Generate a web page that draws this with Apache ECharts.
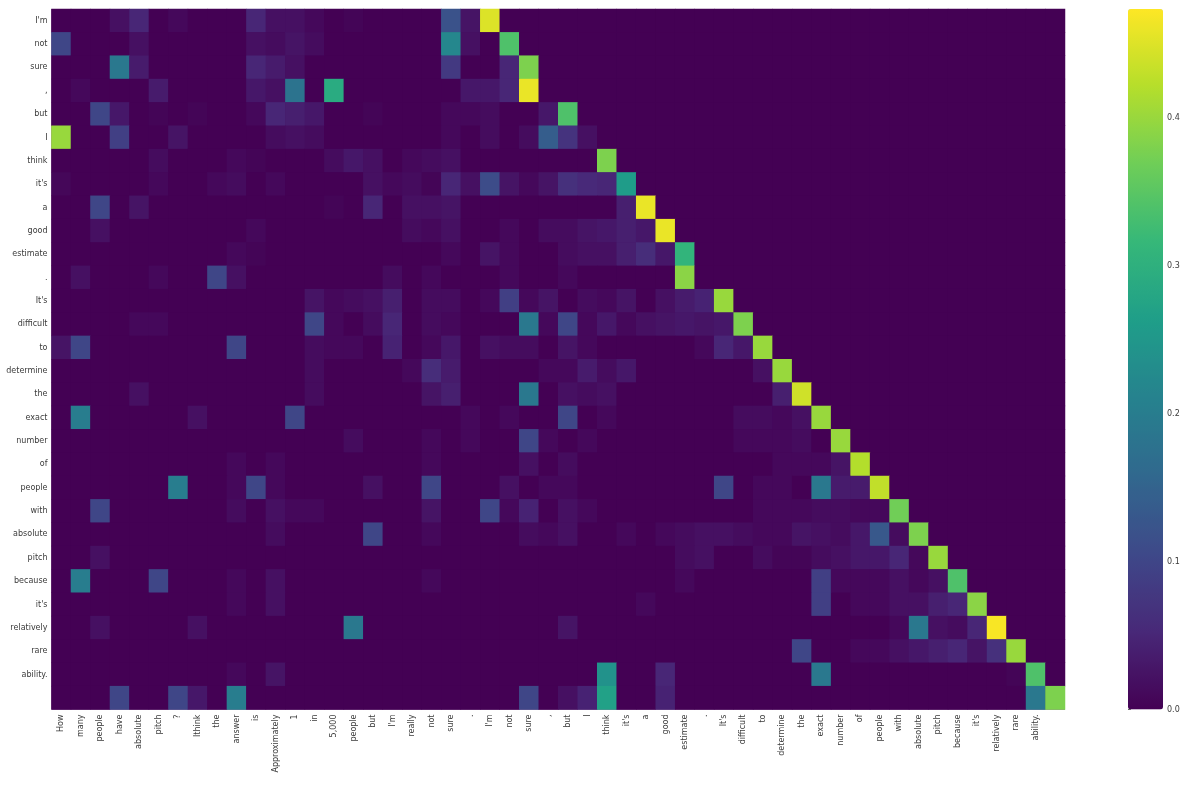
<!DOCTYPE html>
<html>
<head>
<meta charset="utf-8">
<script src="https://cdn.jsdelivr.net/npm/echarts@6/dist/echarts.min.js"></script>
<style>
html,body{margin:0;padding:0;background:#fff;}
#chart{width:1189px;height:808px;}
</style>
</head>
<body>
<div id="chart"></div>
<script>
// Column tokens (last column unlabeled)
const xLabels = ["How","many","people","have","absolute","pitch","?","Ithink","the","answer","is","Approximately","1","in","5,000","people","but","I'm","really","not","sure",".","I'm","not","sure",",","but","I","think","it's","a","good","estimate",".","It's","difficult","to","determine","the","exact","number","of","people","with","absolute","pitch","because","it's","relatively","rare","ability.",""];
// Row tokens (last row unlabeled)
const yLabels = ["I'm","not","sure",",","but","I","think","it's","a","good","estimate",".","It's","difficult","to","determine","the","exact","number","of","people","with","absolute","pitch","because","it's","relatively","rare","ability.",""];
// Colorbar ticks
const colorbarTicks = [0.0, 0.1, 0.2, 0.3, 0.4];
const colorMax = 0.474;
// Nonzero attention weights: [row, col, value]; all other cells are 0
const weights = [
// row 0 I'm
[0,3,0.02],[0,4,0.05],[0,6,0.01],[0,10,0.05],[0,11,0.02],[0,12,0.02],[0,13,0.01],[0,15,0.005],[0,20,0.12],[0,21,0.025],[0,22,0.45],
// row 1 not
[1,0,0.1],[1,4,0.02],[1,10,0.02],[1,11,0.015],[1,12,0.025],[1,13,0.015],[1,20,0.22],[1,21,0.02],[1,23,0.34],
// row 2 sure
[2,3,0.19],[2,4,0.035],[2,10,0.05],[2,11,0.035],[2,12,0.02],[2,20,0.08],[2,23,0.05],[2,24,0.38],
// row 3 ,
[3,1,0.01],[3,5,0.035],[3,10,0.03],[3,11,0.02],[3,12,0.18],[3,14,0.29],[3,21,0.03],[3,22,0.03],[3,23,0.05],[3,24,0.46],
// row 4 but
[4,2,0.1],[4,3,0.03],[4,5,0.005],[4,7,0.005],[4,10,0.01],[4,11,0.05],[4,12,0.04],[4,13,0.03],[4,16,0.005],[4,20,0.01],[4,21,0.01],[4,22,0.015],[4,25,0.03],[4,26,0.34],
// row 5 I
[5,0,0.40],[5,3,0.09],[5,6,0.025],[5,11,0.015],[5,12,0.02],[5,13,0.015],[5,20,0.01],[5,22,0.015],[5,24,0.015],[5,25,0.14],[5,26,0.07],[5,27,0.02],
// row 6 think
[6,5,0.015],[6,9,0.01],[6,10,0.005],[6,14,0.015],[6,15,0.03],[6,16,0.02],[6,18,0.01],[6,19,0.015],[6,20,0.02],[6,28,0.38],
// row 7 it's
[7,0,0.008],[7,5,0.01],[7,8,0.01],[7,9,0.015],[7,11,0.01],[7,16,0.02],[7,17,0.01],[7,18,0.015],[7,19,0.005],[7,20,0.05],[7,21,0.02],[7,22,0.11],[7,23,0.025],[7,24,0.01],[7,25,0.025],[7,26,0.065],[7,27,0.055],[7,28,0.05],[7,29,0.26],
// row 8 a
[8,2,0.1],[8,4,0.025],[8,14,0.005],[8,16,0.05],[8,18,0.02],[8,19,0.02],[8,20,0.025],[8,29,0.04],[8,30,0.46],
// row 9 good
[9,2,0.02],[9,10,0.01],[9,18,0.015],[9,19,0.01],[9,20,0.02],[9,23,0.01],[9,25,0.015],[9,26,0.015],[9,27,0.025],[9,28,0.03],[9,29,0.04],[9,30,0.03],[9,31,0.46],
// row 10 estimate
[10,9,0.01],[10,10,0.005],[10,20,0.01],[10,22,0.025],[10,23,0.01],[10,26,0.015],[10,27,0.02],[10,28,0.02],[10,29,0.04],[10,30,0.06],[10,31,0.03],[10,32,0.31],
// row 11 .
[11,1,0.02],[11,5,0.01],[11,8,0.1],[11,9,0.02],[11,17,0.015],[11,19,0.01],[11,23,0.01],[11,26,0.01],[11,32,0.39],
// row 12 It's
[12,13,0.025],[12,14,0.01],[12,15,0.015],[12,16,0.02],[12,17,0.04],[12,19,0.015],[12,20,0.015],[12,22,0.01],[12,23,0.09],[12,24,0.01],[12,25,0.025],[12,27,0.015],[12,28,0.01],[12,29,0.025],[12,31,0.02],[12,32,0.035],[12,33,0.045],[12,34,0.40],
// row 13 difficult
[13,4,0.01],[13,5,0.01],[13,13,0.1],[13,14,0.01],[13,16,0.015],[13,17,0.05],[13,19,0.015],[13,20,0.01],[13,24,0.19],[13,25,0.01],[13,26,0.1],[13,27,0.01],[13,28,0.03],[13,29,0.01],[13,30,0.02],[13,31,0.025],[13,32,0.03],[13,33,0.025],[13,34,0.03],[13,35,0.38],
// row 14 to
[14,0,0.025],[14,1,0.1],[14,9,0.1],[14,13,0.015],[14,14,0.01],[14,15,0.01],[14,17,0.045],[14,19,0.01],[14,20,0.03],[14,22,0.02],[14,23,0.015],[14,24,0.015],[14,26,0.025],[14,27,0.01],[14,33,0.01],[14,34,0.05],[14,35,0.03],[14,36,0.40],
// row 15 determine
[15,13,0.015],[15,18,0.01],[15,19,0.06],[15,20,0.035],[15,25,0.01],[15,26,0.01],[15,27,0.035],[15,28,0.015],[15,29,0.03],[15,36,0.02],[15,37,0.40],
// row 16 the
[16,4,0.02],[16,13,0.015],[16,19,0.025],[16,20,0.04],[16,24,0.19],[16,26,0.02],[16,27,0.015],[16,28,0.02],[16,37,0.04],[16,38,0.44],
// row 17 exact
[17,1,0.2],[17,7,0.02],[17,12,0.1],[17,21,0.01],[17,23,0.01],[17,26,0.1],[17,28,0.01],[17,35,0.015],[17,36,0.015],[17,37,0.01],[17,38,0.02],[17,39,0.40],
// row 18 number
[18,15,0.015],[18,19,0.01],[18,21,0.01],[18,24,0.1],[18,25,0.01],[18,27,0.01],[18,35,0.01],[18,36,0.01],[18,37,0.01],[18,38,0.015],[18,40,0.40],
// row 19 of
[19,9,0.01],[19,11,0.01],[19,19,0.01],[19,24,0.02],[19,26,0.015],[19,37,0.01],[19,38,0.01],[19,39,0.01],[19,40,0.025],[19,41,0.42],
// row 20 people
[20,6,0.2],[20,9,0.01],[20,10,0.1],[20,11,0.01],[20,16,0.02],[20,19,0.1],[20,23,0.02],[20,25,0.01],[20,26,0.01],[20,34,0.1],[20,36,0.01],[20,37,0.01],[20,39,0.19],[20,40,0.035],[20,41,0.035],[20,42,0.43],
// row 21 with
[21,2,0.1],[21,9,0.015],[21,11,0.02],[21,12,0.01],[21,13,0.01],[21,19,0.025],[21,22,0.1],[21,23,0.01],[21,24,0.045],[21,26,0.02],[21,27,0.01],[21,36,0.01],[21,37,0.01],[21,38,0.01],[21,39,0.015],[21,40,0.015],[21,41,0.01],[21,42,0.01],[21,43,0.37],
// row 22 absolute
[22,11,0.015],[22,16,0.1],[22,19,0.01],[22,24,0.015],[22,25,0.01],[22,26,0.02],[22,29,0.01],[22,31,0.01],[22,32,0.015],[22,33,0.02],[22,34,0.02],[22,35,0.015],[22,36,0.01],[22,37,0.01],[22,38,0.025],[22,39,0.02],[22,40,0.015],[22,41,0.03],[22,42,0.13],[22,43,0.015],[22,44,0.38],
// row 23 pitch
[23,2,0.02],[23,32,0.015],[23,33,0.02],[23,36,0.015],[23,37,0.005],[23,38,0.005],[23,39,0.015],[23,40,0.02],[23,41,0.03],[23,42,0.03],[23,43,0.05],[23,44,0.01],[23,45,0.40],
// row 24 because
[24,1,0.2],[24,5,0.1],[24,9,0.01],[24,11,0.02],[24,19,0.01],[24,32,0.01],[24,39,0.09],[24,40,0.01],[24,41,0.01],[24,42,0.01],[24,43,0.02],[24,44,0.01],[24,45,0.02],[24,46,0.34],
// row 25 it's
[25,9,0.01],[25,11,0.02],[25,30,0.01],[25,39,0.09],[25,41,0.01],[25,42,0.01],[25,43,0.02],[25,44,0.02],[25,45,0.04],[25,46,0.05],[25,47,0.39],
// row 26 relatively
[26,2,0.02],[26,7,0.02],[26,15,0.19],[26,26,0.025],[26,43,0.01],[26,44,0.19],[26,45,0.02],[26,46,0.015],[26,47,0.05],[26,48,0.47],
// row 27 rare
[27,38,0.1],[27,41,0.01],[27,42,0.01],[27,43,0.02],[27,44,0.03],[27,45,0.04],[27,46,0.05],[27,47,0.025],[27,48,0.065],[27,49,0.40],
// row 28 ability.
[28,9,0.01],[28,11,0.025],[28,28,0.24],[28,31,0.05],[28,39,0.19],[28,49,0.005],[28,50,0.34],
// row 29 (blank)
[29,3,0.1],[29,6,0.1],[29,7,0.03],[29,9,0.2],[29,24,0.1],[29,26,0.02],[29,27,0.045],[29,28,0.27],[29,31,0.045],[29,50,0.19],[29,51,0.38]
];
const viridis = ['#440154','#482878','#3e4989','#31688e','#26828e','#1f9e89','#35b779','#6ece58','#b5de2b','#fde725'];

// Build full grid
const grid = yLabels.map(() => xLabels.map(() => 0));
weights.forEach(([r, c, v]) => { grid[r][c] = v; });
const heatData = [];
grid.forEach((row, r) => row.forEach((v, c) => heatData.push([c, r, v])));

const font = 'DejaVu Sans';
const chart = echarts.init(document.getElementById('chart'), null, {renderer: 'canvas'});
chart.setOption({
  animation: false,
  backgroundColor: '#fff',
  textStyle: {fontFamily: font},
  grid: [
    {left: 51.5, top: 9, width: 1013.5, height: 700.5, show: true, backgroundColor: viridis[0], borderWidth: 0},
    {left: 1128, top: 9, width: 35, height: 700.5}
  ],
  xAxis: [
    {type: 'category', data: xLabels, gridIndex: 0, position: 'bottom',
     axisLine: {show: false}, axisTick: {show: false}, splitLine: {show: false},
     axisLabel: {interval: 0, rotate: 90, fontSize: 8, color: '#3a3a3a', fontFamily: font, margin: 5}},
    {type: 'value', gridIndex: 1, show: false, min: 0, max: 1}
  ],
  yAxis: [
    {type: 'category', data: yLabels, gridIndex: 0, inverse: true,
     axisLine: {show: false}, axisTick: {show: false}, splitLine: {show: false},
     axisLabel: {interval: 0, fontSize: 8, color: '#3a3a3a', fontFamily: font, margin: 4}},
    {type: 'value', gridIndex: 1, position: 'right', min: 0, max: colorMax, interval: 0.1,
     axisLine: {show: false}, splitLine: {show: false},
     axisTick: {show: true, length: 3, customValues: colorbarTicks, lineStyle: {color: '#3a3a3a', width: 0.8}},
     axisLabel: {fontSize: 8, color: '#3a3a3a', fontFamily: font, margin: 4, customValues: colorbarTicks,
       formatter: v => Number(v).toFixed(1)}}
  ],
  visualMap: {
    type: 'continuous', min: 0, max: colorMax, calculable: false, show: true,
    seriesIndex: 0, orient: 'vertical', left: 1128, top: 9, padding: 0,
    itemWidth: 35, itemHeight: 700.5, showLabel: false, text: null, hoverLink: false,
    inRange: {color: viridis}
  },
  series: [
    {type: 'heatmap', xAxisIndex: 0, yAxisIndex: 0, data: heatData,
     itemStyle: {borderWidth: 0}, emphasis: {disabled: true}, progressive: 0},
    {type: 'scatter', xAxisIndex: 1, yAxisIndex: 1, data: [], silent: true}
  ]
});
</script>
</body>
</html>
